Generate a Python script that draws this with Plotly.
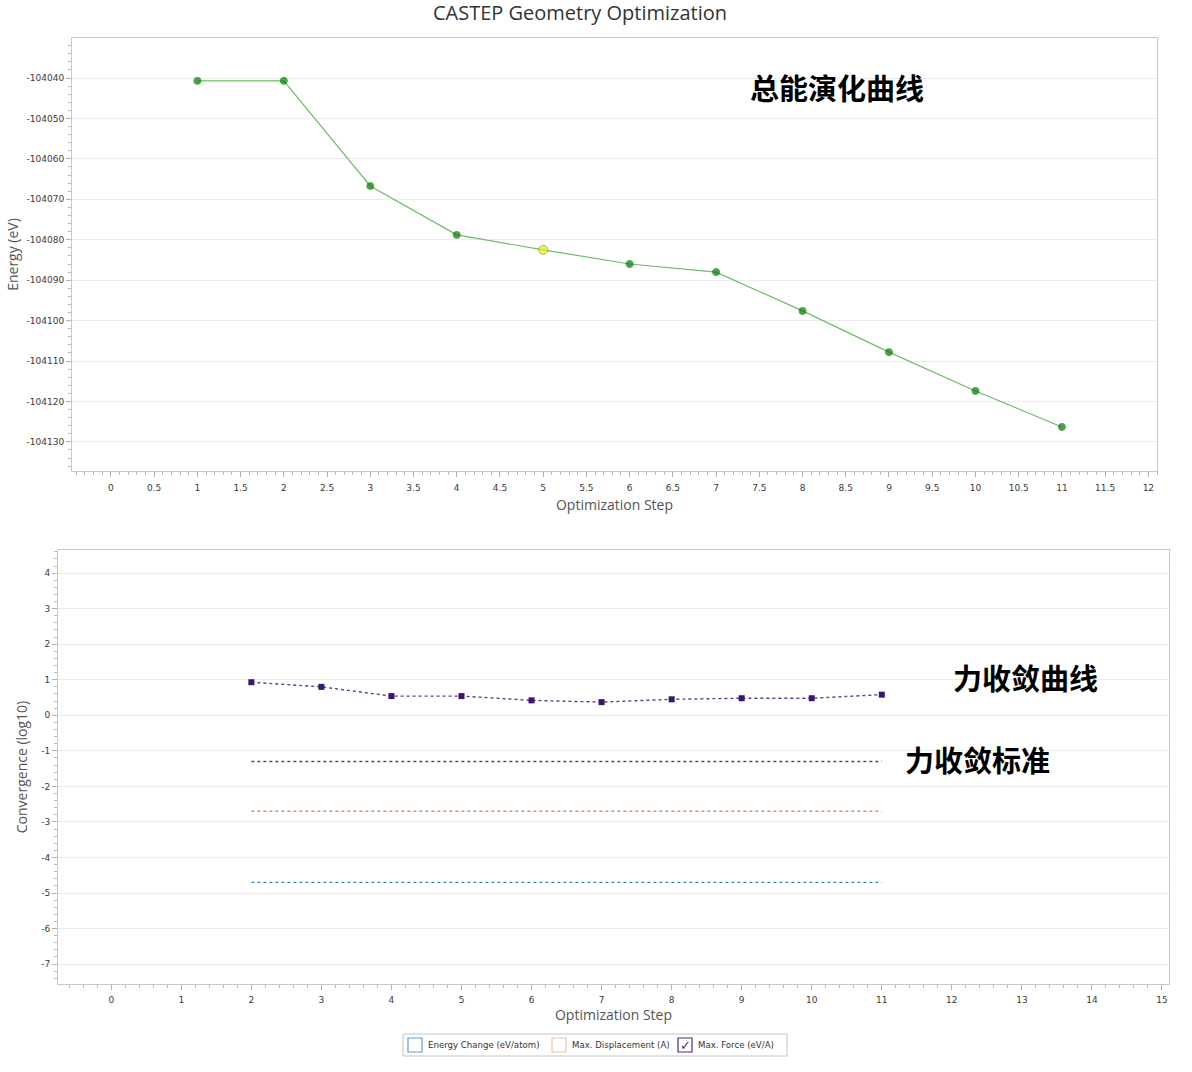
import plotly.graph_objects as go

# ---- data ----
steps_energy = [1, 2, 3, 4, 5, 6, 7, 8, 9, 10, 11]
energy_ev = [-104040.7, -104040.7, -104066.7, -104078.8, -104082.5, -104086.0,
             -104088.0, -104097.6, -104107.8, -104117.4, -104126.3]
selected_step = 5

steps_conv = [2, 3, 4, 5, 6, 7, 8, 9, 10, 11]
max_force_log = [0.93, 0.80, 0.54, 0.54, 0.42, 0.37, 0.45, 0.48, 0.48, 0.58]
# tolerances (log10) drawn as flat lines
force_tol_log = [-1.30] * len(steps_conv)
disp_tol_log = [-2.70] * len(steps_conv)
energy_tol_log = [-4.70] * len(steps_conv)

energy_ticks = [-104040, -104050, -104060, -104070, -104080, -104090,
                -104100, -104110, -104120, -104130]
energy_ticktext = [str(v) for v in energy_ticks]
conv_ticks = [4, 3, 2, 1, 0, -1, -2, -3, -4, -5, -6, -7]
conv_ticktext = [str(v) for v in conv_ticks]

legend_labels = ['Energy Change (eV/atom)', 'Max. Displacement (A)', 'Max. Force (eV/A)']
legend_checked = [False, False, True]

W, H = 1192, 1072

GREEN_DOT = '#037a03'
GREEN_LINE = '#6cbd66'
PURPLE = '#3b1670'
PURPLE_LINE = '#5e3f8f'
ORANGE = '#e8904f'
BLUE = '#2f8acb'
legend_colors = ['#5a9fd0', '#f2c4a4', '#4b2c7a']

TICK_FONT = dict(family='DejaVu Sans', size=9, color='#3a3a3a')
TITLE_FONT = dict(family='Open Sans', size=14, color='#555555')


def px_x(px):
    # window pixel -> paper fraction
    return px / W


def px_y(py):
    return 1 - py / H


fig = go.Figure()

# top: total energy
marker_cols = ['#e4f21c' if s == selected_step else GREEN_DOT for s in steps_energy]
marker_lines = ['#8a9a10' if s == selected_step else GREEN_DOT for s in steps_energy]
marker_sizes = [9 if s == selected_step else 7 for s in steps_energy]
fig.add_trace(go.Scatter(x=steps_energy, y=energy_ev, mode='lines+markers',
                         name='Energy', line=dict(color=GREEN_LINE, width=1.2),
                         marker=dict(color=marker_cols, size=marker_sizes,
                                     line=dict(color=marker_lines, width=1)),
                         xaxis='x', yaxis='y'))

# bottom: convergence
fig.add_trace(go.Scatter(x=steps_conv, y=energy_tol_log, mode='lines',
                         name=legend_labels[0] + ' tolerance',
                         line=dict(color=BLUE, width=1.3, dash='dot'),
                         xaxis='x2', yaxis='y2'))
fig.add_trace(go.Scatter(x=steps_conv, y=disp_tol_log, mode='lines',
                         name=legend_labels[1] + ' tolerance',
                         line=dict(color=ORANGE, width=1.3, dash='dot'),
                         xaxis='x2', yaxis='y2'))
fig.add_trace(go.Scatter(x=steps_conv, y=force_tol_log, mode='lines',
                         name=legend_labels[2] + ' tolerance',
                         line=dict(color=PURPLE_LINE, width=1.4, dash='dot'),
                         xaxis='x2', yaxis='y2'))
fig.add_trace(go.Scatter(x=steps_conv, y=max_force_log, mode='lines+markers',
                         name=legend_labels[2],
                         line=dict(color=PURPLE_LINE, width=1.4, dash='dot'),
                         marker=dict(color=PURPLE, size=6, symbol='square'),
                         xaxis='x2', yaxis='y2'))

axis_common = dict(showline=True, linecolor='#c8c8c8', linewidth=1, mirror=True,
                   ticks='outside', ticklen=5, tickcolor='#b0b0b0',
                   tickfont=TICK_FONT, zeroline=False)

fig.update_layout(
    width=W, height=H, showlegend=False,
    margin=dict(l=0, r=0, t=0, b=0),
    paper_bgcolor='white', plot_bgcolor='white',
    title=dict(text='CASTEP Geometry Optimization', x=px_x(580), y=px_y(13),
               xanchor='center', yanchor='middle',
               font=dict(family='Open Sans', size=20, color='#333333')),
    xaxis=dict(domain=[px_x(72), px_x(1157)], anchor='y', range=[-0.45, 12.1],
               dtick=0.5, tick0=0, showgrid=False, ticklabelstandoff=3,
               minor=dict(dtick=0.1, ticks='outside', ticklen=3, tickcolor='#b8b8b8'),
               title=dict(text='Optimization Step', font=TITLE_FONT, standoff=8),
               **axis_common),
    yaxis=dict(domain=[px_y(471), px_y(38)], anchor='x', range=[-104137.2, -104030.1],
               tickmode='array', tickvals=energy_ticks, ticktext=energy_ticktext,
               showgrid=True, gridcolor='#ececec',
               minor=dict(dtick=2, tick0=0, ticks='outside', ticklen=3,
                          tickcolor='#b8b8b8', showgrid=False),
               title=dict(text='Energy (eV)', font=TITLE_FONT, standoff=4),
               **axis_common),
    xaxis2=dict(domain=[px_x(58), px_x(1169)], anchor='y2', range=[-0.76, 15.1],
                dtick=1, tick0=0, showgrid=False, ticklabelstandoff=2,
                minor=dict(dtick=0.2, ticks='outside', ticklen=3, tickcolor='#b8b8b8'),
                title=dict(text='Optimization Step', font=TITLE_FONT, standoff=6),
                **axis_common),
    yaxis2=dict(domain=[px_y(984), px_y(550)], anchor='x2', range=[-7.56, 4.65],
                tickmode='array', tickvals=conv_ticks, ticktext=conv_ticktext,
                showgrid=True, gridcolor='#ececec',
                minor=dict(dtick=0.2, tick0=0, ticks='outside', ticklen=3,
                           tickcolor='#b8b8b8', showgrid=False),
                title=dict(text='Convergence (log10)', font=TITLE_FONT, standoff=10),
                **axis_common),
)

# checkbox style legend under the lower chart
fig.add_shape(type='rect', xref='paper', yref='paper',
              x0=px_x(403), x1=px_x(787), y0=px_y(1056), y1=px_y(1034),
              line=dict(color='#c4c4c4', width=1), fillcolor='white')
box_left = [408, 552, 678]
for left, label, col, checked in zip(box_left, legend_labels, legend_colors, legend_checked):
    fig.add_shape(type='rect', xref='paper', yref='paper',
                  x0=px_x(left), x1=px_x(left + 14), y0=px_y(1052), y1=px_y(1038),
                  line=dict(color=col, width=1.2), fillcolor='white')
    if checked:
        fig.add_annotation(text='✓', x=px_x(left + 7), y=px_y(1045),
                           xref='paper', yref='paper', showarrow=False,
                           xanchor='center', yanchor='middle',
                           font=dict(family='DejaVu Sans', size=13, color=col))
    fig.add_annotation(text=label, x=px_x(left + 18), y=px_y(1045),
                       xref='paper', yref='paper', showarrow=False,
                       xanchor='left', yanchor='middle',
                       font=dict(family='DejaVu Sans', size=8.6, color='#333333'))

notes = [('总能演化曲线', 837, 87), ('力收敛曲线', 1025, 677), ('力收敛标准', 977, 759)]
for text, nx, ny in notes:
    fig.add_annotation(text='<b>' + text + '</b>', x=px_x(nx), y=px_y(ny),
                       xref='paper', yref='paper', showarrow=False,
                       xanchor='center', yanchor='middle',
                       font=dict(family='Noto Sans CJK SC', size=29, color='#000000'))

# drop the default 8px page margin so the figure fills the window
fig.write_html("out.html", config={'displayModeBar': False},
               post_script="document.body.style.margin='0px';")
